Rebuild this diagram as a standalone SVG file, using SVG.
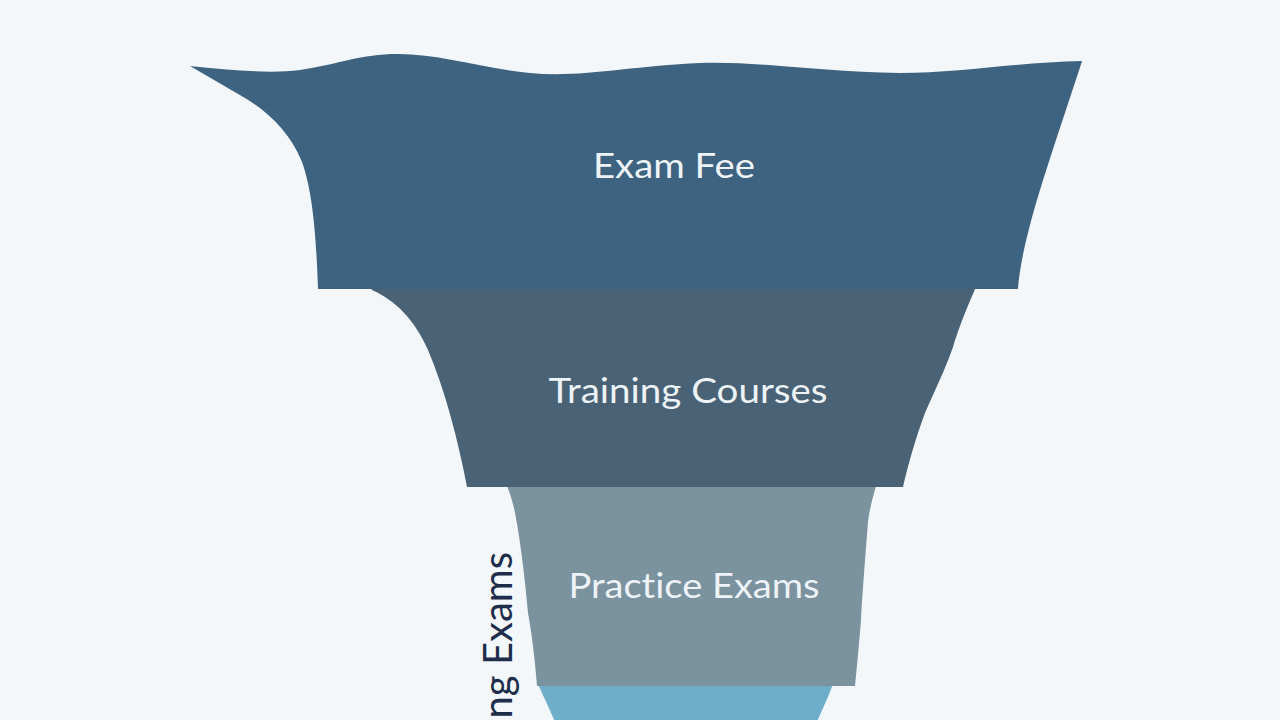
<svg xmlns="http://www.w3.org/2000/svg" width="1280" height="720" viewBox="0 0 1280 720">
  <style>
    .lbl { font-family: Lato, "Open Sans", "Liberation Sans", sans-serif; font-size: 35px; fill: #edf3f7; text-anchor: middle; font-variant-ligatures: none; }
    .side { font-family: Lato, "Open Sans", "Liberation Sans", sans-serif; font-size: 40px; fill: #1e2d4a; text-anchor: end; font-variant-ligatures: none; }
  </style>
  <rect width="1280" height="720" fill="#f3f7fa"/>
  <g id="layer-bottom">
    <path fill="#6eaecb" d="M538,684 L833,684 C828,698 822,710 816,724 L556,724 C550,710 544,698 538,684 Z"/>
  </g>
  <g id="layer-practice-exams">
    <path fill="#7b929f" d="M507,486 L876,486 C872,500 869,512 868,522 C865,560 862,600 861,620 C859,645 857,665 855,686 L537,686 C534,650 531,630 528,613 C525,580 522,555 518,530 C515,510 512,498 507,486 Z"/>
    <text class="lbl" x="694" y="598" textLength="251" lengthAdjust="spacingAndGlyphs">Practice Exams</text>
  </g>
  <g id="layer-training-courses">
    <path fill="#4a6275" d="M370,287 L976,287 C965,312 958,330 953,347 C945,370 935,390 925,413 C915,440 908,465 903,487 L467,487 C458,440 445,390 428,350 C415,320 395,300 372,290 Z"/>
    <text class="lbl" x="688" y="403" textLength="279" lengthAdjust="spacingAndGlyphs">Training Courses</text>
  </g>
  <g id="layer-exam-fee">
    <path fill="#3d6380" d="M190,66 C230,70 270,74 300,70 C340,64 360,54 398,54 C440,54 480,68 530,73 C580,78 630,66 700,63 C760,61 820,72 900,73 C960,73 1020,62 1082,61 C1068,105 1040,185 1030,225 C1022,255 1019,275 1018,289 L318,289 C316,230 312,190 302,162 C290,132 268,112 245,98 Z"/>
    <text class="lbl" x="674" y="178" textLength="162" lengthAdjust="spacingAndGlyphs">Exam Fee</text>
  </g>
  <g id="side-label">
    <text class="side" transform="translate(512,552) rotate(-90)" x="0" y="0">ng Exams</text>
  </g>
  <g id="connectors"></g>
</svg>
